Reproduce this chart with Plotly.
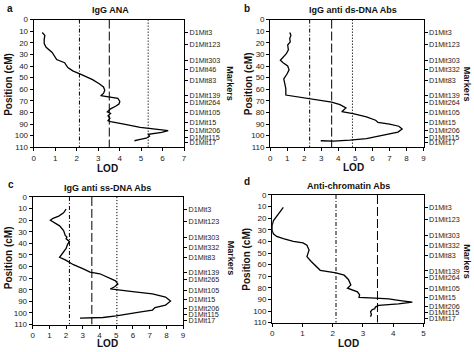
import plotly.graph_objects as go

W, H = 474, 352
FONT = "Arial, Liberation Sans, Helvetica, sans-serif"

titles = ["IgG ANA", "IgG anti ds-DNA Abs", "IgG anti ss-DNA Abs", "Anti-chromatin Abs"]
letters = ["a", "b", "c", "d"]

marker_pos = [10.8, 21.3, 35.0, 43.4, 52.5, 65.5, 71.4, 80.3, 88.4, 95.9, 101.3, 106.2]
markers_a = ["D1Mit3", "D1Mit123", "D1Mit303", "D1Mit46", "D1Mit83", "D1Mit139", "D1Mit264",
             "D1Mit105", "D1Mit15", "D1Mit206", "D1Mit115", "D1Mit17"]
markers_b = ["D1Mit3", "D1Mit123", "D1Mit303", "D1Mit332", "D1Mit83", "D1Mit139", "D1Mit264",
             "D1Mit105", "D1Mit15", "D1Mit206", "D1Mit115", "D1Mit17"]
markers_c = ["D1Mit3", "D1Mit123", "D1Mit303", "D1Mit332", "D1Mit83", "D1Mit139", "D1Mit265",
             "D1Mit105", "D1Mit15", "D1Mit206", "D1Mit115", "D1Mit17"]
markers_d = markers_b

# panel a
a_lod = [0.40, 0.52, 0.49, 0.49, 0.58, 0.86, 1.07, 1.44, 1.59, 1.82, 2.28, 2.74, 3.05, 3.25,
         3.31, 3.25, 3.12, 3.58, 3.92, 4.01, 3.97, 3.81, 3.58, 3.43, 3.58, 3.46, 3.55, 3.46,
         3.58, 4.20, 4.58, 4.96, 5.57, 6.26, 5.96, 5.34, 5.39, 5.24, 4.96, 4.69]
a_pos = [11.1, 13.6, 17.2, 20.6, 23.9, 28.3, 34.4, 37.2, 41.4, 44.2, 47.8, 51.7, 55.3, 58.0,
         60.8, 63.6, 65.6, 66.7, 67.8, 70.6, 72.8, 74.7, 76.9, 79.4, 80.8, 83.0, 85.0, 87.2,
         88.0, 90.0, 91.7, 92.8, 94.2, 95.6, 97.2, 98.9, 100.6, 102.2, 103.3, 104.4]
# panel b
b_lod = [1.15, 1.22, 1.15, 1.18, 1.03, 1.07, 0.95, 0.76, 0.60, 0.76, 1.03, 1.11, 0.99, 0.80,
         0.84, 0.92, 0.92, 1.38, 2.35, 3.61, 4.10, 4.45, 4.20, 4.49, 4.87, 5.65, 6.19, 6.33,
         7.01, 7.55, 7.75, 7.50, 6.82, 6.23, 5.65, 4.68, 3.71, 2.97]
b_pos = [11.1, 13.6, 16.4, 19.2, 21.9, 26.1, 29.4, 32.2, 35.0, 37.2, 40.0, 43.3, 46.9, 51.1,
         55.3, 59.4, 65.0, 66.1, 68.3, 71.1, 73.3, 76.1, 79.4, 80.0, 81.1, 83.9, 86.7, 88.6,
         90.0, 91.9, 94.2, 96.9, 98.9, 101.1, 102.5, 103.9, 104.7, 104.4]
# panel c
c_lod = [2.00, 1.85, 1.56, 1.22, 1.06, 1.30, 1.61, 1.85, 1.95, 2.05, 2.00, 2.20, 2.09, 2.00,
         1.85, 1.69, 1.61, 1.95, 2.44, 3.03, 3.43, 4.02, 4.61, 4.96, 5.10, 4.90, 4.65, 5.10,
         5.98, 7.17, 7.95, 8.25, 7.95, 7.32, 7.17, 6.57, 5.79, 5.00, 4.21, 3.43, 2.83]
c_pos = [10.6, 13.7, 16.5, 18.4, 20.1, 22.0, 24.9, 29.0, 33.2, 34.6, 36.0, 38.3, 40.8, 44.4,
         47.2, 50.0, 52.0, 54.2, 58.4, 62.0, 64.8, 66.2, 69.6, 72.3, 75.1, 77.4, 79.3, 80.2,
         81.6, 83.5, 86.3, 89.7, 93.3, 95.3, 97.5, 98.9, 100.8, 102.5, 103.9, 104.5, 104.5]
# panel d
d_lod = [0.37, 0.26, 0.13, 0.04, 0.00, 0.00, 0.04, 0.15, 0.37, 0.70, 1.02, 1.15, 1.22, 1.18,
         1.15, 1.29, 1.46, 1.59, 2.11, 2.38, 2.52, 2.60, 2.49, 2.71, 2.82, 2.89, 2.87, 3.41,
         3.85, 4.23, 4.63, 4.17, 3.52, 3.41, 3.39, 3.30, 3.25, 3.28, 3.25]
d_pos = [10.7, 14.6, 18.5, 22.2, 26.4, 30.6, 33.4, 35.7, 37.6, 39.9, 41.3, 43.3, 47.5, 51.1,
         53.1, 57.3, 61.5, 64.9, 67.1, 69.1, 72.8, 77.5, 80.3, 82.0, 83.4, 86.0, 88.2, 88.8,
         89.6, 91.0, 92.4, 93.8, 95.2, 96.6, 98.0, 98.9, 100.8, 102.8, 105.0]

# thresholds: (dash-dot, dashed, dotted)
thr_a = [2.13, 3.52, 5.33]
thr_b = [2.32, 3.61, 4.83]
thr_c = [2.20, 3.54, 5.04]
thr_d = [2.11, 3.48]

xmax = [7, 9, 9, 5]

panels = [
    (a_lod, a_pos, thr_a, markers_a),
    (b_lod, b_pos, thr_b, markers_b),
    (c_lod, c_pos, thr_c, markers_c),
    (d_lod, d_pos, thr_d, markers_d),
]

# plot boxes in pixels (x0, x1, y0_top, y1_bottom)
boxes = [(32, 184, 16, 147), (271, 426, 16, 147), (31, 183, 198, 329), (273, 426, 196, 327)]

dashes = ["4px,2px,1px,2px", "9px,3px", "1.2px,1.8px"]

fig = go.Figure()
layout = {}
annotations = []

for i, ((lod, pos, thr, mk), box) in enumerate(zip(panels, boxes)):
    n = i + 1
    xa = "x" if n == 1 else f"x{n}"
    ya = "y" if n == 1 else f"y{n}"
    yr = f"y{n + 4}"
    x0, x1, yt, yb = box
    xd = [x0 / W, x1 / W]
    yd = [1 - yb / H, 1 - yt / H]
    axis_common = dict(showgrid=False, zeroline=False, showline=True, linecolor="black",
                       linewidth=1, ticks="outside", ticklen=3, tickcolor="black",
                       tickfont=dict(family=FONT, size=8, color="#222"))
    layout[f"xaxis{'' if n == 1 else n}"] = dict(axis_common, domain=xd, anchor=ya,
                                                  range=[0, xmax[i]], dtick=1, mirror=True)
    layout[f"yaxis{'' if n == 1 else n}"] = dict(axis_common, domain=yd, anchor=xa,
                                                  range=[110, 0], dtick=10, mirror=True)
    layout[f"yaxis{n + 4}"] = dict(axis_common, domain=yd, anchor=xa, overlaying=ya,
                                   side="right", range=[110, 0], tickvals=marker_pos,
                                   ticktext=mk, showline=False,
                                   tickfont=dict(family=FONT, size=7.2, color="#222"))
    # threshold lines
    for t, dsh in zip(thr, dashes):
        fig.add_trace(go.Scatter(x=[t, t], y=[0, 110], mode="lines", xaxis=xa, yaxis=ya,
                                 line=dict(color="black", width=1, dash=dsh),
                                 hoverinfo="skip", showlegend=False))
    # LOD curve
    fig.add_trace(go.Scatter(x=lod, y=pos, mode="lines", xaxis=xa, yaxis=ya,
                             line=dict(color="black", width=1.3), showlegend=False))
    # invisible trace to activate right axis
    fig.add_trace(go.Scatter(x=[None], y=[None], xaxis=xa, yaxis=yr, showlegend=False,
                             hoverinfo="skip"))

# text annotations (pixel positions converted to paper)
def ann(text, px, py, size, angle=0, bold=True, xanchor="center"):
    annotations.append(dict(text=f"<b>{text}</b>" if bold else text, x=px / W, y=1 - py / H,
                            xref="paper", yref="paper", showarrow=False, textangle=angle,
                            xanchor=xanchor, yanchor="middle",
                            font=dict(family=FONT, size=size, color="#111")))

title_pos = [(110, 6), (355, 6), (107, 188.5), (350, 187)]
letter_pos = [(3, 5), (243, 5), (4, 185), (243, 182)]
pos_label = [(7, 82), (250, 82), (6, 260), (247, 262)]
mk_label = [(231, 82), (470, 82), (231, 261), (470, 264)]
lod_label = [(107, 169), (355, 168), (107, 348), (350, 348)]

for i in range(4):
    ann(titles[i], *title_pos[i], 9)
    ann(letters[i], *letter_pos[i], 10, xanchor="left")
    ann("Position (cM)", *pos_label[i], 10, angle=-90)
    ann("Markers", *mk_label[i], 9, angle=90)
    ann("LOD", *lod_label[i], 10)

fig.update_layout(width=W, height=H, margin=dict(l=0, r=0, t=0, b=0),
                  paper_bgcolor="white", plot_bgcolor="white",
                  annotations=annotations, **layout)

fig.write_html("out.html")
